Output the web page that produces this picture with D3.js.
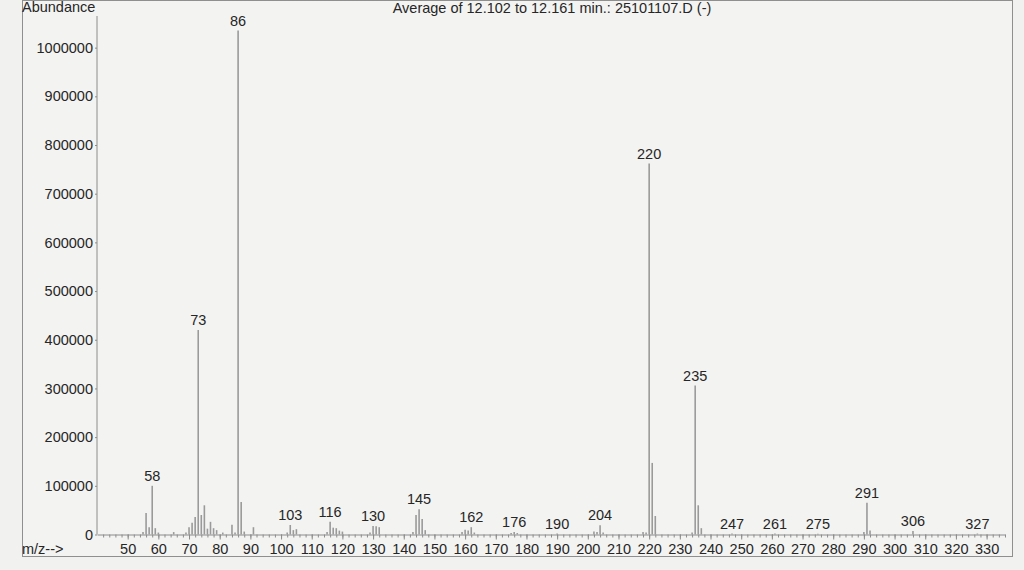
<!DOCTYPE html>
<html>
<head>
<meta charset="utf-8">
<script src="https://cdn.jsdelivr.net/npm/d3@7"></script>
<style>
  body { margin: 0; background: #f1f1f0; }
  svg { display: block; font-family: "Liberation Sans", Arial, sans-serif; }
  .axis text { font-size: 14.5px; fill: #262626; }
  .axis path, .axis line { stroke: #8c8c8c; }
</style>
</head>
<body>
<div id="chart"></div>
<script>
var width = 1024,
	height = 570;

// spectrum (m/z, abundance)
var mz = [55, 56, 57, 58, 59, 60, 65, 69, 70, 71, 72, 73, 74, 75, 76, 77, 78, 79, 81, 84, 85, 86, 87, 88, 91,
	102, 103, 104, 105, 115, 116, 117, 118, 119, 120, 129, 130, 131, 132, 143, 144, 145, 146, 147,
	159, 160, 161, 162, 163, 175, 176, 177, 190, 202, 203, 204, 205, 218, 219, 220, 221, 222,
	234, 235, 236, 237, 247, 261, 275, 290, 291, 292, 306, 327];
var abundance = [5000, 44000, 15000, 100000, 13000, 4000, 5000, 4000, 15000, 24000, 36000, 420000, 40000, 60000, 12000, 26000, 13000, 9000, 4000, 20000, 4000, 1035000, 67000, 6000, 15000,
	4000, 19500, 9000, 11000, 5000, 26000, 14000, 13000, 8000, 6000, 4000, 17500, 17000, 15000, 5000, 40000, 52000, 32000, 9000,
	5000, 10000, 8000, 15000, 4000, 3000, 5000, 3000, 2000, 6000, 5000, 19000, 4000, 5000, 4000, 762000, 147000, 38000,
	4000, 306000, 60000, 13000, 2000, 2000, 1500, 5000, 65000, 8000, 7000, 2000];
var labeled = [58, 73, 86, 103, 116, 130, 145, 162, 176, 190, 204, 220, 235, 247, 261, 275, 291, 306, 327];

var yTicks = [0, 100000, 200000, 300000, 400000, 500000, 600000, 700000, 800000, 900000, 1000000];
var xTicks = [50, 60, 70, 80, 90, 100, 110, 120, 130, 140, 150, 160, 170, 180, 190, 200, 210, 220, 230, 240, 250, 260, 270, 280, 290, 300, 310, 320, 330];

var title = "Average of 12.102 to 12.161 min.: 25101107.D (-)";

var svg = d3.select('#chart')
	.append('svg')
	.attr('width', width)
	.attr('height', height);

var x = d3.scaleLinear().domain([40, 336]).range([97, 1005]),
	y = d3.scaleLinear().domain([0, 1065000]).range([534.5, 16]);

// page frame
svg.append('rect')
	.attr('x', 22.5).attr('y', 0.5)
	.attr('width', 990).attr('height', 556)
	.attr('fill', '#f3f3f2')
	.attr('stroke', '#8f8f8f');

svg.append('text')
	.attr('x', 22).attr('y', 12)
	.style('font-size', '14.5px').style('fill', '#262626')
	.text('Abundance');

svg.append('text')
	.attr('x', 552).attr('y', 13)
	.attr('text-anchor', 'middle')
	.style('font-size', '14.5px').style('fill', '#262626')
	.text(title);

svg.append('text')
	.attr('x', 22).attr('y', 554)
	.style('font-size', '14.5px').style('fill', '#262626')
	.text('m/z-->');

// y axis
var yAxis = svg.append('g')
	.attr('class', 'axis')
	.attr('transform', 'translate(97,0)')
	.call(d3.axisLeft(y).tickValues(yTicks).tickSize(2).tickSizeOuter(0).tickPadding(2).tickFormat(d3.format('d')));
yAxis.select('.domain').attr('d', 'M0,' + y(0) + 'V16');

// x axis: minor ticks then labelled ticks
svg.append('g')
	.attr('class', 'axis')
	.attr('transform', 'translate(0,' + y(0) + ')')
	.call(d3.axisBottom(x).tickValues(d3.range(42, 337, 2)).tickSize(3).tickSizeOuter(0).tickFormat(''));

svg.append('g')
	.attr('class', 'axis')
	.attr('transform', 'translate(0,' + y(0) + ')')
	.call(d3.axisBottom(x).tickValues(xTicks).tickSize(5).tickSizeOuter(0).tickPadding(4))
	.select('.domain').remove();

// peaks
var peaks = mz.map(function(d, i) { return { mz: d, v: abundance[i] }; });

svg.append('g').selectAll('line')
	.data(peaks)
	.enter()
	.append('line')
	.attr('x1', function(d) { return x(d.mz); })
	.attr('x2', function(d) { return x(d.mz); })
	.attr('y1', y(0))
	.attr('y2', function(d) { return y(d.v); })
	.style('stroke', '#9a9a9a')
	.style('stroke-width', 1.6);

svg.append('g').selectAll('text')
	.data(peaks.filter(function(d) { return labeled.indexOf(d.mz) >= 0; }))
	.enter()
	.append('text')
	.attr('x', function(d) { return x(d.mz); })
	.attr('y', function(d) { return y(d.v) - 5; })
	.attr('text-anchor', 'middle')
	.style('font-size', '14.5px')
	.style('fill', '#262626')
	.text(function(d) { return d.mz; });
</script>
</body>
</html>
